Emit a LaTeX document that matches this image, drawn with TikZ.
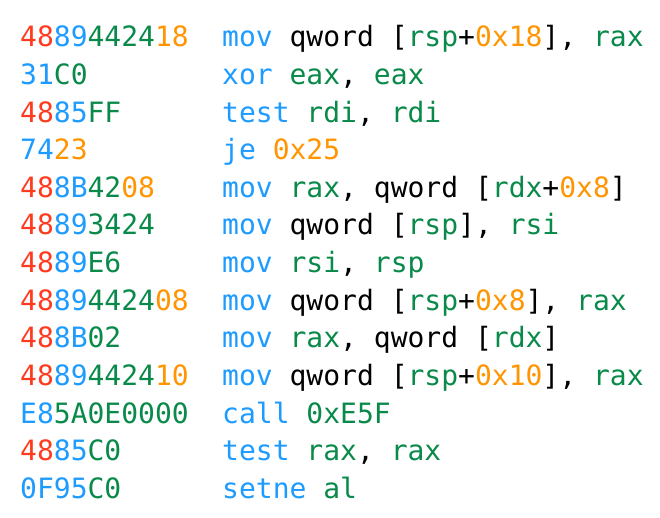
\documentclass[tikz,border=0pt]{standalone}
\usepackage{fontspec}
\setmonofont{DejaVu Sans Mono}
\definecolor{cR}{HTML}{FF3B1F}
\definecolor{cB}{HTML}{1E9BFF}
\definecolor{cG}{HTML}{0A8A4A}
\definecolor{cO}{HTML}{FF9500}
\newcommand{\kR}[1]{\textcolor{cR}{#1}}
\newcommand{\kB}[1]{\textcolor{cB}{#1}}
\newcommand{\kG}[1]{\textcolor{cG}{#1}}
\newcommand{\kO}[1]{\textcolor{cO}{#1}}
\begin{document}
\begin{tikzpicture}[x=1pt,y=1pt,
  hx/.style={anchor=base west,inner sep=0pt,font=\fontsize{28}{34}\selectfont\ttfamily},
  as/.style={hx}]
\useasboundingbox[fill=white] (0,0) rectangle (660,517);
\def\ln{37.6}
\foreach \i/\h/\a in {
0/{\kR{48}\kB{89}\kG{4424}\kO{18}}/{\kB{mov} qword [\kG{rsp}+\kO{0x18}], \kG{rax}},
1/{\kB{31}\kG{C0}}/{\kB{xor} \kG{eax}, \kG{eax}},
2/{\kR{48}\kB{85}\kG{FF}}/{\kB{test} \kG{rdi}, \kG{rdi}},
3/{\kB{74}\kO{23}}/{\kB{je} \kO{0x25}},
4/{\kR{48}\kB{8B}\kG{42}\kO{08}}/{\kB{mov} \kG{rax}, qword [\kG{rdx}+\kO{0x8}]},
5/{\kR{48}\kB{89}\kG{3424}}/{\kB{mov} qword [\kG{rsp}], \kG{rsi}},
6/{\kR{48}\kB{89}\kG{E6}}/{\kB{mov} \kG{rsi}, \kG{rsp}},
7/{\kR{48}\kB{89}\kG{4424}\kO{08}}/{\kB{mov} qword [\kG{rsp}+\kO{0x8}], \kG{rax}},
8/{\kR{48}\kB{8B}\kG{02}}/{\kB{mov} \kG{rax}, qword [\kG{rdx}]},
9/{\kR{48}\kB{89}\kG{4424}\kO{10}}/{\kB{mov} qword [\kG{rsp}+\kO{0x10}], \kG{rax}},
10/{\kB{E8}\kG{5A0E0000}}/{\kB{call} \kG{0xE5F}},
11/{\kR{48}\kB{85}\kG{C0}}/{\kB{test} \kG{rax}, \kG{rax}},
12/{\kB{0F95}\kG{C0}}/{\kB{setne} \kG{al}}}
{
  \node[hx] (h\i) at (20,{517-47-\ln*\i}) {\h};
  \node[as] (a\i) at (222,{517-47-\ln*\i}) {\a};
}
\end{tikzpicture}
\end{document}
